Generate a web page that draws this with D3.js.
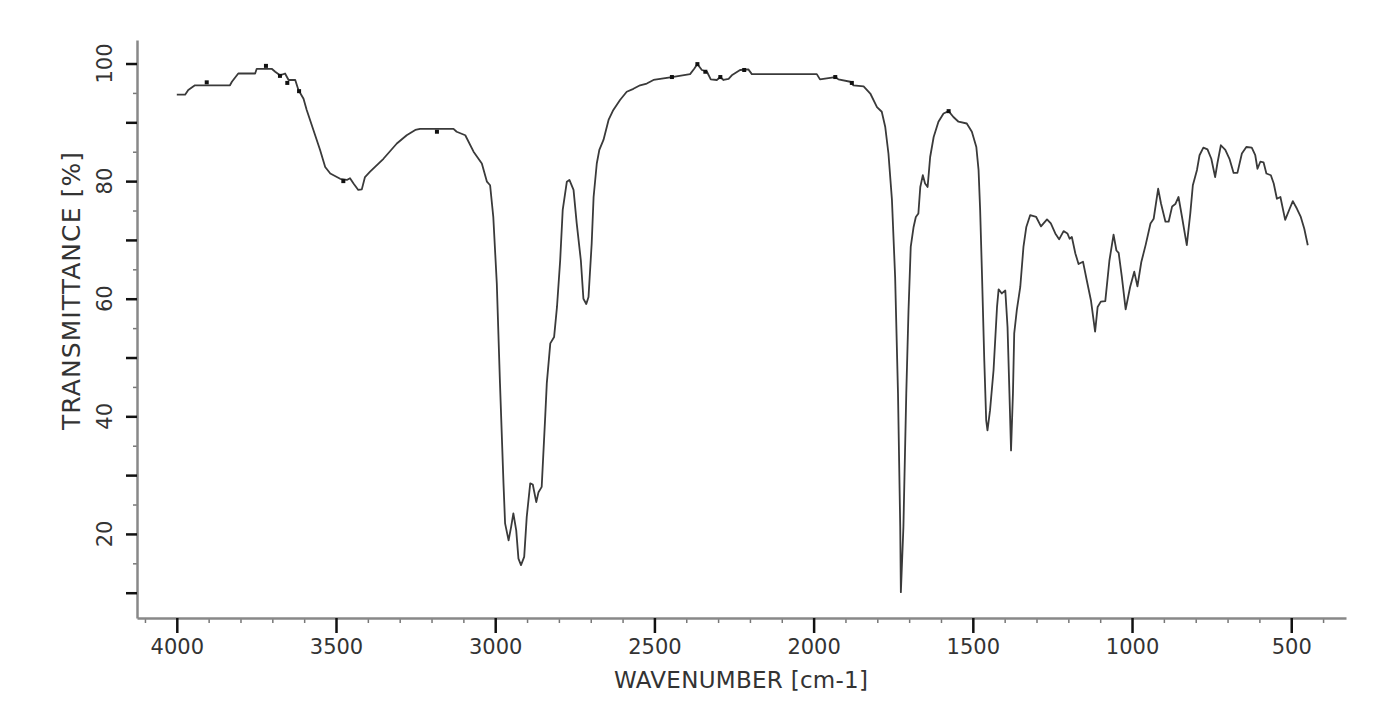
<!DOCTYPE html>
<html>
<head>
<meta charset="utf-8">
<script src="https://cdn.jsdelivr.net/npm/d3@7"></script>
<style>
  body { margin: 0; background: #fff; }
  text { font-family: "DejaVu Sans", Verdana, sans-serif; fill: #333; }
</style>
</head>
<body>
<div id="chart"></div>
<script>
// spectrum trace (wavenumber in cm-1, transmittance in %)
const wavenumbers = [
  4000, 3974, 3964, 3943, 3833, 3827, 3807, 3754, 3749, 3702, 3691, 3676, 3660, 3649, 3628, 3618,
  3602, 3592, 3571, 3550, 3534, 3518, 3487, 3466, 3456, 3445, 3430, 3419, 3409, 3393, 3351, 3309,
  3278, 3251, 3236, 3131, 3121, 3094, 3068, 3042, 3026, 3016, 3006, 2995, 2985, 2974, 2969, 2958,
  2950, 2943, 2934, 2927, 2919, 2909, 2901, 2890, 2882, 2871, 2864, 2854, 2843, 2838, 2827, 2815,
  2806, 2796, 2788, 2775, 2767, 2754, 2744, 2731, 2723, 2714, 2707, 2697, 2691, 2681, 2673, 2660,
  2644, 2629, 2608, 2587, 2566, 2545, 2524, 2503, 2445, 2388, 2375, 2365, 2351, 2335, 2323, 2304,
  2293, 2283, 2267, 2257, 2231, 2205, 2194, 1990, 1980, 1932, 1922, 1885, 1875, 1843, 1822, 1801,
  1786, 1775, 1765, 1754, 1744, 1735, 1728, 1726, 1718, 1709, 1702, 1695, 1686, 1679, 1671, 1665,
  1657, 1650, 1642, 1634, 1623, 1608, 1592, 1576, 1561, 1545, 1519, 1503, 1489, 1482, 1477, 1471,
  1464, 1458, 1454, 1446, 1435, 1424, 1419, 1409, 1398, 1391, 1385, 1380, 1374, 1370, 1362, 1351,
  1341, 1332, 1320, 1301, 1286, 1267, 1255, 1241, 1229, 1215, 1203, 1196, 1189, 1178, 1168, 1154,
  1142, 1129, 1116, 1108, 1098, 1084, 1071, 1058, 1049, 1042, 1032, 1020, 1006, 993, 983, 971,
  957, 942, 932, 918, 909, 895, 885, 874, 864, 854, 843, 828, 817, 809, 796, 788,
  776, 763, 751, 739, 732, 721, 707, 694, 681, 669, 655, 641, 624, 613, 606, 597,
  587, 578, 564, 555, 545, 534, 519, 505, 495, 482, 470, 459, 448
];
const transmittance = [
  94.7, 94.7, 95.5, 96.3, 96.3, 96.9, 98.3, 98.3, 99.1, 99.1, 98.6, 98.0, 98.3, 97.2, 97.2, 95.5,
  94.0, 92.1, 88.7, 85.3, 82.4, 81.3, 80.4, 80.2, 80.5, 79.6, 78.5, 78.6, 80.7, 81.6, 83.8, 86.4,
  87.8, 88.7, 88.9, 88.9, 88.4, 87.8, 85.0, 83.0, 79.9, 79.3, 73.9, 62.6, 45.6, 28.6, 21.8, 18.9,
  21.2, 23.5, 20.6, 15.8, 14.7, 16.1, 22.9, 28.6, 28.4, 25.4, 27.1, 28.0, 39.9, 45.6, 52.4, 53.5,
  58.6, 66.5, 75.1, 79.9, 80.2, 78.5, 72.8, 66.5, 60.0, 59.1, 60.3, 69.4, 77.3, 83.0, 85.3, 87.0,
  90.4, 92.1, 93.8, 95.2, 95.7, 96.3, 96.6, 97.2, 97.7, 98.2, 99.1, 99.9, 98.9, 98.6, 97.3, 97.2,
  97.7, 97.2, 97.4, 98.0, 98.9, 99.0, 98.2, 98.2, 97.3, 97.7, 97.3, 96.9, 96.3, 96.1, 94.9, 92.6,
  91.8, 89.2, 84.7, 76.8, 63.7, 43.9, 21.2, 10.1, 21.2, 43.9, 58.0, 68.8, 72.2, 73.9, 74.5, 79.0,
  81.0, 79.6, 79.0, 84.1, 87.5, 90.1, 91.5, 91.9, 90.9, 90.1, 89.8, 88.4, 85.8, 81.9, 75.1, 63.7,
  49.5, 39.3, 37.6, 41.0, 47.8, 58.6, 61.6, 60.9, 61.4, 55.2, 43.9, 34.2, 43.9, 54.1, 58.0, 62.0,
  68.8, 72.2, 74.2, 73.9, 72.3, 73.5, 72.8, 71.1, 70.1, 71.5, 71.1, 70.2, 70.5, 67.7, 65.9, 66.3,
  63.1, 59.7, 54.4, 58.6, 59.5, 59.6, 66.5, 70.9, 68.2, 67.8, 63.7, 58.2, 62.0, 64.6, 62.1, 66.2,
  69.2, 72.8, 73.6, 78.7, 76.2, 73.1, 73.1, 75.7, 76.1, 77.3, 73.9, 69.1, 74.5, 79.3, 81.9, 84.4,
  85.7, 85.4, 83.8, 80.7, 83.0, 86.1, 85.3, 83.8, 81.4, 81.4, 84.7, 85.8, 85.7, 84.4, 82.1, 83.3,
  83.2, 81.3, 81.0, 79.6, 77.0, 77.3, 73.4, 75.3, 76.6, 75.3, 73.9, 71.9, 69.1
];

// little peak-pick markers sitting on the trace
const markerWn = [3906, 3720, 3676, 3653, 3616, 3477, 3183, 2445, 2365, 2340, 2293, 2218, 1932, 1880, 1576];
const markerT = [96.8, 99.6, 97.9, 96.7, 95.3, 80.0, 88.4, 97.7, 99.9, 98.6, 97.7, 98.9, 97.7, 96.7, 91.9];

const xMajorTicks = [4000, 3500, 3000, 2500, 2000, 1500, 1000, 500];
const xMinorTicks = d3.range(400, 4101, 100).filter(v => v % 500 !== 0);
const yMajorTicks = [10, 20, 30, 40, 50, 60, 70, 80, 90, 100];
const yLabelTicks = [20, 40, 60, 80, 100];
const yMinorTicks = [15, 25, 35, 45, 55, 65, 75, 85, 95];

const width = 1398, height = 702;
const plot = { left: 137, right: 1346, top: 40, bottom: 618 };

const svg = d3.select("#chart").append("svg")
  .attr("width", width)
  .attr("height", height)
  .style("background", "#fff");

const x = d3.scaleLinear().domain([4125, 328]).range([plot.left, plot.right]);
const y = d3.scaleLinear().domain([5.7, 104]).range([plot.bottom, plot.top]);

const axisColor = "#888";

// x axis: minor ticks, then major ticks + labels
svg.append("g")
  .attr("transform", `translate(0,${plot.bottom})`)
  .call(d3.axisBottom(x).tickValues(xMinorTicks).tickSize(5).tickFormat(""))
  .call(g => g.select(".domain").remove())
  .call(g => g.selectAll("line").attr("stroke", "#777").attr("stroke-width", 1.5));

const xAxis = svg.append("g")
  .attr("transform", `translate(0,${plot.bottom})`)
  .call(d3.axisBottom(x).tickValues(xMajorTicks).tickSize(15).tickSizeOuter(0).tickPadding(6).tickFormat(d3.format("d")));
xAxis.select(".domain").attr("stroke", axisColor).attr("stroke-width", 2.5);
xAxis.selectAll(".tick line").attr("stroke", "#111").attr("stroke-width", 2.5);
xAxis.selectAll(".tick text").attr("font-size", 21).attr("fill", "#333")
  .attr("font-family", "DejaVu Sans, sans-serif");

// y axis
svg.append("g")
  .attr("transform", `translate(${plot.left},0)`)
  .call(d3.axisLeft(y).tickValues(yMinorTicks).tickSize(4).tickFormat(""))
  .call(g => g.select(".domain").remove())
  .call(g => g.selectAll("line").attr("stroke", "#777").attr("stroke-width", 1.5));

const yAxis = svg.append("g")
  .attr("transform", `translate(${plot.left},0)`)
  .call(d3.axisLeft(y).tickValues(yMajorTicks).tickSize(11).tickSizeOuter(0).tickFormat(""));
yAxis.select(".domain").attr("stroke", axisColor).attr("stroke-width", 2.5);
yAxis.selectAll(".tick line").attr("stroke", "#111").attr("stroke-width", 2.5);

svg.append("g").selectAll("text")
  .data(yLabelTicks)
  .join("text")
  .attr("transform", d => `translate(112,${y(d)}) rotate(-90)`)
  .attr("text-anchor", "middle")
  .attr("font-size", 21)
  .text(d => d);

// axis titles
svg.append("text")
  .attr("x", 741)
  .attr("y", 688)
  .attr("text-anchor", "middle")
  .attr("font-size", 23)
  .attr("textLength", 254)
  .attr("lengthAdjust", "spacing")
  .text("WAVENUMBER [cm-1]");

svg.append("text")
  .attr("transform", "translate(80,291) rotate(-90)")
  .attr("text-anchor", "middle")
  .attr("font-size", 25)
  .attr("textLength", 278)
  .attr("lengthAdjust", "spacing")
  .text("TRANSMITTANCE [%]");

// spectrum line
const points = wavenumbers.map((w, i) => [w, transmittance[i]]);
const line = d3.line()
  .x(d => x(d[0]))
  .y(d => y(d[1]));

svg.append("path")
  .datum(points)
  .attr("fill", "none")
  .attr("stroke", "#3a3a3a")
  .attr("stroke-width", 1.8)
  .attr("stroke-linejoin", "round")
  .attr("d", line);

svg.append("g").selectAll("rect")
  .data(markerWn.map((w, i) => [w, markerT[i]]))
  .join("rect")
  .attr("x", d => x(d[0]) - 2)
  .attr("y", d => y(d[1]) - 2)
  .attr("width", 4)
  .attr("height", 4)
  .attr("fill", "#111");
</script>
</body>
</html>
